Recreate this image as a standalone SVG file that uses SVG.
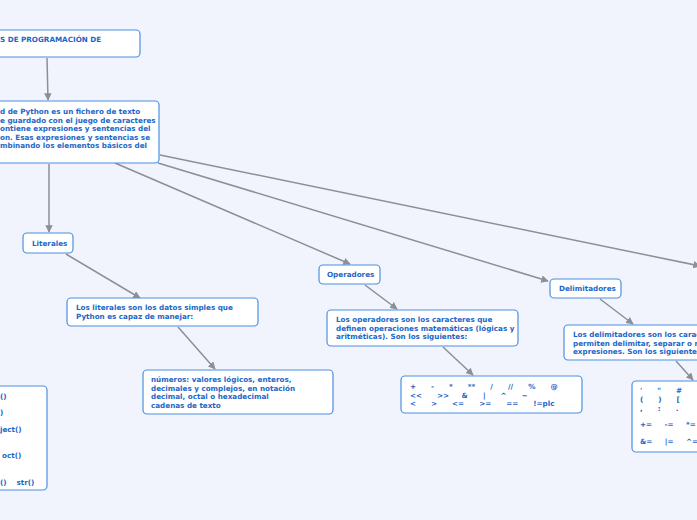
<svg xmlns="http://www.w3.org/2000/svg" width="697" height="520" viewBox="0 0 697 520">
<style>
.b{fill:#fff;stroke:#4a90e2;stroke-width:1.2}
text{font-family:"DejaVu Sans",Verdana,sans-serif;font-size:7.2px;font-weight:bold;fill:#1c67c8}
.c path{stroke:#8a8f98;stroke-width:1.5;fill:none;marker-end:url(#a)}
</style>
<defs><marker id="a" viewBox="0 0 10 10" refX="9" refY="5" markerWidth="5" markerHeight="5" orient="auto"><path d="M0,0L10,5L0,10z" fill="#8a8f98"/></marker></defs>
<rect width="697" height="520" fill="#f1f4fd"/>
<g class="c">
<path d="M47,58L48,100"/><path d="M49,164L49,232"/><path d="M115,163L350,264"/>
<path d="M66,254L140,298"/><path d="M178,327L215,369"/><path d="M365,285L397,309"/>
<path d="M443,347L473,375"/><path d="M158,163L548,281"/><path d="M160,155L700,266"/>
<path d="M600,299L633,324"/><path d="M676,361L693,380"/>
</g>
<g id="root"><rect class="b" x="-10" y="30" width="150" height="27" rx="4"/><text x="0" y="42">S DE PROGRAMACIÓN DE</text></g>
<g id="def"><rect class="b" x="-10" y="101" width="169" height="62" rx="4"/>
<text x="0" y="114">d de Python es un fichero de texto</text><text x="0" y="122.5">e guardado con el juego de caracteres</text><text x="0" y="131">ontiene expresiones y sentencias del</text><text x="0" y="139.5">on. Esas expresiones y sentencias se</text><text x="0" y="148">mbinando los elementos básicos del</text></g>
<g id="lit"><rect class="b" x="23" y="233" width="50" height="20" rx="4"/><text x="32" y="246">Literales</text></g>
<g id="litd"><rect class="b" x="67" y="298" width="191" height="28" rx="4"/><text x="76" y="310">Los literales son los datos simples que</text><text x="76" y="319">Python es capaz de manejar:</text></g>
<g id="num"><rect class="b" x="143" y="370" width="190" height="44" rx="4"/><text x="151" y="382">números: valores lógicos, enteros,</text><text x="151" y="390.5">decimales y complejos, en notación</text><text x="151" y="399">decimal, octal o hexadecimal</text><text x="151" y="407.5">cadenas de texto</text></g>
<g id="fn"><rect class="b" x="-10" y="386" width="57" height="104" rx="4"/><text x="0" y="399">()</text><text x="0" y="415">)</text><text x="0" y="432">ject()</text><text x="2" y="458">oct()</text><text x="0" y="485" xml:space="preserve">()    str()</text></g>
<g id="op"><rect class="b" x="319" y="265" width="61" height="19" rx="4"/><text x="327" y="277">Operadores</text></g>
<g id="opd"><rect class="b" x="327" y="310" width="191" height="36" rx="4"/><text x="336" y="322">Los operadores son los caracteres que</text><text x="336" y="330.5">definen operaciones matemáticas (lógicas y</text><text x="336" y="339">aritméticas). Son los siguientes:</text></g>
<g id="ops"><rect class="b" x="401" y="376" width="181" height="37" rx="4"/>
<text x="410" y="389" xml:space="preserve">+      -      *      **      /      //      %      @</text>
<text x="410" y="397.5" xml:space="preserve">&lt;&lt;      &gt;&gt;     &amp;      |      ^      ~</text>
<text x="410" y="406" xml:space="preserve">&lt;      &gt;      &lt;=      &gt;=      ==      !=plc</text></g>
<g id="del"><rect class="b" x="550" y="279" width="71" height="19" rx="4"/><text x="559" y="291">Delimitadores</text></g>
<g id="deld"><rect class="b" x="564" y="325" width="140" height="35" rx="4"/><text x="573" y="337">Los delimitadores son los caracteres que</text><text x="573" y="345.5">permiten delimitar, separar o representar</text><text x="573" y="354">expresiones. Son los siguientes:</text></g>
<g id="dels"><rect class="b" x="632" y="381" width="72" height="71" rx="4"/>
<text x="640" y="393" xml:space="preserve">'      "      #</text><text x="640" y="402" xml:space="preserve">(      )      [</text><text x="640" y="411" xml:space="preserve">,      :      .</text>
<text x="640" y="427" xml:space="preserve">+=     -=     *=</text><text x="640" y="444" xml:space="preserve">&amp;=     |=     ^=</text></g>
</svg>
